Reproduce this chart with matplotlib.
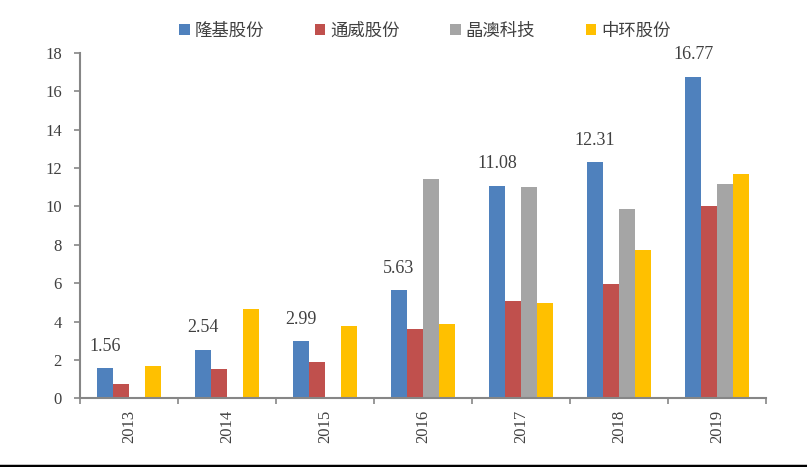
import numpy as np
import matplotlib.pyplot as plt
from matplotlib.lines import Line2D

years = ['2013', '2014', '2015', '2016', '2017', '2018', '2019']
series = ['隆基股份', '通威股份', '晶澳科技', '中环股份']
longi = [1.56, 2.54, 2.99, 5.63, 11.08, 12.31, 16.77]
tongwei = [0.73, 1.51, 1.89, 3.60, 5.08, 5.96, 10.00]
jingao = [0, 0, 0, 11.42, 11.00, 9.89, 11.16]
zhonghuan = [1.70, 4.64, 3.77, 3.89, 4.97, 7.74, 11.68]
colors = ['#4F81BD', '#C0504D', '#A5A5A5', '#FFC000']

plt.rcParams['font.family'] = ['Liberation Serif', 'Noto Sans CJK SC']
txt = '#404040'
axis_c = '#868686'

fig = plt.figure(figsize=(8.07, 4.67), dpi=100)
ax = fig.add_axes([80 / 807, 1 - 398.3 / 467, 686 / 807, 345.3 / 467])

x = np.arange(len(years))
w = 0.163
data = [longi, tongwei, jingao, zhonghuan]
for i, (vals, c, name) in enumerate(zip(data, colors, series)):
    ax.bar(x + (i - 1.5) * w, vals, w, color=c, label=name)

# 隆基 value labels
for xi, v in zip(x, longi):
    ax.text(xi - 1.5 * w, v + 0.7, '%.2f' % v, ha='center', va='bottom',
            fontsize=13, color=txt)

ax.set_xlim(-0.5, len(years) - 0.5)
ax.set_ylim(0, 18)
ax.set_yticks(np.arange(0, 19, 2))
ax.set_xticks(x)
ax.set_xticklabels(years, rotation=90, fontsize=12, color=txt)
ax.set_xticks(np.arange(-0.5, len(years), 1), minor=True)
ax.tick_params(axis='x', which='major', length=0, pad=8)
ax.tick_params(axis='x', which='minor', length=4, color=axis_c, width=1.2)
ax.tick_params(axis='y', length=4, color=axis_c, width=1.2, labelsize=12,
               labelcolor=txt, pad=9)
for s in ['top', 'right']:
    ax.spines[s].set_visible(False)
for s in ['left', 'bottom']:
    ax.spines[s].set_color(axis_c)
    ax.spines[s].set_linewidth(1.5)

leg = fig.legend(loc='center', bbox_to_anchor=(425 / 807, 1 - 31 / 467), ncol=4,
                 frameon=False, handlelength=0.6, handleheight=0.6,
                 columnspacing=2.9, handletextpad=0.3,
                 prop={'family': 'Noto Sans CJK SC', 'size': 12.5})
for t in leg.get_texts():
    t.set_color(txt)

fig.add_artist(Line2D([0, 1], [1 - 465.5 / 467] * 2, color='black', linewidth=2.5,
                      transform=fig.transFigure))

fig.savefig('out.png', dpi=100)
